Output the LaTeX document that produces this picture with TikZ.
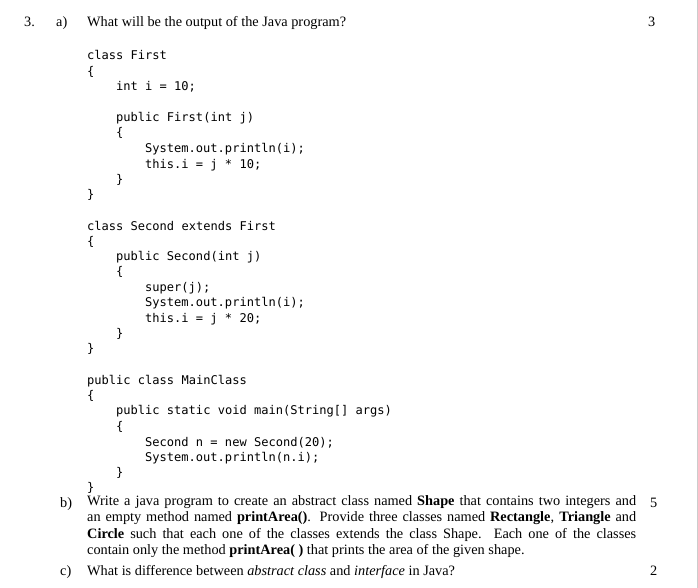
\documentclass[tikz,border=0pt]{standalone}
\usepackage{fontspec}
\setmainfont{Liberation Serif}
\setmonofont{DejaVu Sans Mono}
\begin{document}
\begin{tikzpicture}[x=1pt,y=-1pt,
  txt/.style={anchor=base west,inner sep=0pt,font=\fontsize{14.3}{16}\selectfont},
  code/.style={anchor=base west,inner sep=0pt,font=\fontsize{12.05}{14}\ttfamily}]
\useasboundingbox (0,0) rectangle (698,588);
\draw[gray!40] (697,0) -- (697,588);
\node[txt] (n3) at (24,27) {3.};
\node[txt] (na) at (56,27) {a)};
\node[txt] (qa) at (87,27) {What will be the output of the Java program?};
\node[txt] (m3) at (648,27) {3};
\foreach \t/\x/\y [count=\i] in {
 {class First}/87/60, {\{}/87/76, {int i = 10;}/116/91,
 {public First(int j)}/116/122, {\{}/116/137, {System.out.println(i);}/145/153,
 {this.i = j * 10;}/145/168, {\}}/116/183, {\}}/87/198,
 {class Second extends First}/87/230, {\{}/87/245, {public Second(int j)}/116/260,
 {\{}/116/275, {super(j);}/145/291, {System.out.println(i);}/145/306,
 {this.i = j * 20;}/145/322, {\}}/116/337, {\}}/87/352,
 {public class MainClass}/87/384, {\{}/87/399, {public static void main(String[] args)}/116/414,
 {\{}/116/430, {Second n = new Second(20);}/145/446, {System.out.println(n.i);}/145/461,
 {\}}/116/476, {\}}/87/491}
 \node[code] (c\i) at (\x,\y) {\t};
\node[txt] (nb) at (60,507) {b)};
\node[anchor=north west,inner sep=0pt,text width=549pt,align=justify,
  font=\fontsize{14.3}{16.6}\selectfont] (qb) at (87,495)
 {Write a java program to create an abstract class named \textbf{Shape} that contains two integers and an empty method named \textbf{printArea()}. Provide three classes named \textbf{Rectangle}, \textbf{Triangle} and\linebreak \textbf{Circle} such that each one of the classes extends the class Shape. Each one of the classes\linebreak contain only the method \textbf{printArea( )} that prints the area of the given shape.};
\node[txt] (m5) at (650,507) {5};
\node[txt] (nc) at (60,575) {c)};
\node[txt] (qc) at (87,575) {What is difference between \textit{abstract class} and \textit{interface} in Java?};
\node[txt] (m2) at (650,575) {2};
\end{tikzpicture}
\end{document}
